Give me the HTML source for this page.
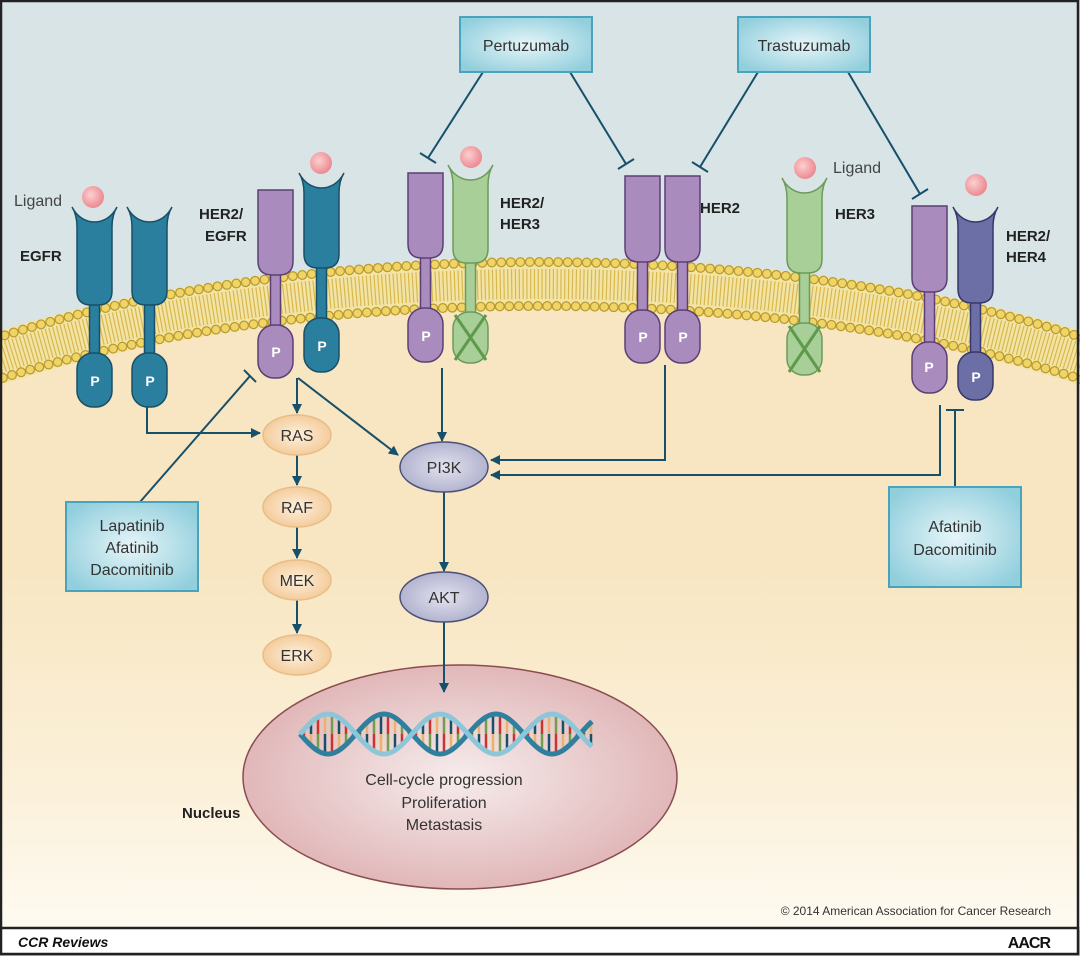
<!DOCTYPE html>
<html><head><meta charset="utf-8"><style>
html,body{margin:0;padding:0;background:#fff}
svg{display:block}
text{font-family:"Liberation Sans",sans-serif}
</style></head><body>
<svg id="s" width="1080" height="956" viewBox="0 0 1080 956" xmlns="http://www.w3.org/2000/svg">
<defs>
<linearGradient id="cyt" x1="0" y1="0" x2="0" y2="1"><stop offset="0" stop-color="#f8e6c2"/><stop offset="0.6" stop-color="#fbf0d9"/><stop offset="1" stop-color="#fefbf2"/></linearGradient>
<radialGradient id="box" cx="0.5" cy="0.5" r="0.6"><stop offset="0" stop-color="#e6f5f8"/><stop offset="1" stop-color="#92cfdd"/></radialGradient>
<radialGradient id="nuc" cx="0.5" cy="0.5" r="0.55"><stop offset="0" stop-color="#f6ecec"/><stop offset="1" stop-color="#dfb2b4"/></radialGradient>
<radialGradient id="org" cx="0.5" cy="0.5" r="0.6"><stop offset="0" stop-color="#fdf0dc"/><stop offset="1" stop-color="#f2c590"/></radialGradient>
<radialGradient id="blu" cx="0.5" cy="0.5" r="0.6"><stop offset="0" stop-color="#e2e2ef"/><stop offset="1" stop-color="#a9abc9"/></radialGradient>
<radialGradient id="lig" cx="0.4" cy="0.4" r="0.6"><stop offset="0" stop-color="#fcd0d0"/><stop offset="1" stop-color="#ec8a92"/></radialGradient>
<marker id="ar" viewBox="0 0 10 10" refX="9" refY="5" markerWidth="5" markerHeight="5" orient="auto"><path d="M0,0 L10,5 L0,10 Z" fill="#17506a"/></marker>
</defs>
<rect x="0" y="0" width="1080" height="956" fill="#d8e4e6"/>
<ellipse cx="540" cy="566" rx="826" ry="308" fill="#f8e6c2"/>
<rect x="0" y="566" width="1080" height="364" fill="url(#cyt)"/>
<!-- membrane (upper arcs only) -->
<path d="M-260,566 A800,282 0 0 1 1340,566" fill="none" stroke="#f3e4a6" stroke-width="52"/>
<path d="M-260,566 A800,282 0 0 1 1340,566" fill="none" stroke="#d7b84c" stroke-width="30" stroke-dasharray="1.2 2.6"/>
<path d="M-282,566 A822,304 0 0 1 1362,566" fill="none" stroke="#b89a30" stroke-width="10" stroke-linecap="round" stroke-dasharray="0 9.5"/>
<path d="M-282,566 A822,304 0 0 1 1362,566" fill="none" stroke="#f0d466" stroke-width="7.5" stroke-linecap="round" stroke-dasharray="0 9.5"/>
<path d="M-238,566 A778,260 0 0 1 1318,566" fill="none" stroke="#b89a30" stroke-width="10" stroke-linecap="round" stroke-dasharray="0 9.5"/>
<path d="M-238,566 A778,260 0 0 1 1318,566" fill="none" stroke="#f0d466" stroke-width="7.5" stroke-linecap="round" stroke-dasharray="0 9.5"/>
<g id="rec"></g>
<g fill="#fff" font-size="14" font-weight="bold" text-anchor="middle">
<text x="95" y="386">P</text><text x="150" y="386">P</text>
<text x="276" y="357">P</text><text x="322" y="351">P</text>
<text x="426" y="341">P</text>
<text x="643" y="342">P</text><text x="683" y="342">P</text>
<text x="929" y="372">P</text><text x="976" y="382">P</text>
</g>
<g fill="url(#lig)">
<circle cx="93" cy="197" r="11"/><circle cx="321" cy="163" r="11"/><circle cx="471" cy="157" r="11"/><circle cx="805" cy="168" r="11"/><circle cx="976" cy="185" r="11"/>
</g>
<!-- nucleus -->
<ellipse cx="460" cy="777" rx="217" ry="112" fill="url(#nuc)" stroke="#8a4d4d" stroke-width="1.5"/>
<g id="dna"></g>
<!-- connectors -->
<g stroke="#17506a" stroke-width="2" fill="none">
<line x1="483" y1="72" x2="428" y2="158"/><line x1="420" y1="153" x2="436" y2="163"/>
<line x1="570" y1="72" x2="626" y2="164"/><line x1="618" y1="169" x2="634" y2="159"/>
<line x1="758" y1="72" x2="700" y2="167"/><line x1="692" y1="162" x2="708" y2="172"/>
<line x1="848" y1="72" x2="920" y2="194"/><line x1="912" y1="199" x2="928" y2="189"/>
<line x1="140" y1="502" x2="250" y2="376"/><line x1="244" y1="370" x2="256" y2="382"/>
<polyline points="147,407 147,433 260,433" marker-end="url(#ar)"/>
<line x1="297" y1="378" x2="297" y2="413" marker-end="url(#ar)"/>
<line x1="298" y1="378" x2="398" y2="455" marker-end="url(#ar)"/>
<line x1="442" y1="368" x2="442" y2="441" marker-end="url(#ar)"/>
<polyline points="665,365 665,460 491,460" marker-end="url(#ar)"/>
<polyline points="940,405 940,475 491,475" marker-end="url(#ar)"/>
<line x1="955" y1="487" x2="955" y2="410"/><line x1="946" y1="410" x2="964" y2="410"/>
<line x1="297" y1="455" x2="297" y2="485" marker-end="url(#ar)"/>
<line x1="297" y1="527" x2="297" y2="558" marker-end="url(#ar)"/>
<line x1="297" y1="600" x2="297" y2="633" marker-end="url(#ar)"/>
<line x1="444" y1="492" x2="444" y2="571" marker-end="url(#ar)"/>
<line x1="444" y1="622" x2="444" y2="692" marker-end="url(#ar)"/>
</g>
<g stroke-width="1.5">
<ellipse cx="297" cy="435" rx="34" ry="20" fill="url(#org)" stroke="#e9bd86"/>
<ellipse cx="297" cy="507" rx="34" ry="20" fill="url(#org)" stroke="#e9bd86"/>
<ellipse cx="297" cy="580" rx="34" ry="20" fill="url(#org)" stroke="#e9bd86"/>
<ellipse cx="297" cy="655" rx="34" ry="20" fill="url(#org)" stroke="#e9bd86"/>
<ellipse cx="444" cy="467" rx="44" ry="25" fill="url(#blu)" stroke="#4c4f78"/>
<ellipse cx="444" cy="597" rx="44" ry="25" fill="url(#blu)" stroke="#4c4f78"/>
</g>
<g font-size="16" text-anchor="middle" fill="#333">
<text x="297" y="441">RAS</text><text x="297" y="513">RAF</text><text x="297" y="586">MEK</text><text x="297" y="661">ERK</text>
<text x="444" y="473">PI3K</text><text x="444" y="603">AKT</text>
</g>
<g font-size="16" text-anchor="middle" fill="#333">
<text x="444" y="785">Cell-cycle progression</text>
<text x="444" y="808">Proliferation</text>
<text x="444" y="830">Metastasis</text>
</g>
<text x="182" y="818" font-size="15" font-weight="bold" fill="#222">Nucleus</text>
<g fill="url(#box)" stroke="#49a3bd" stroke-width="2">
<rect x="460" y="17" width="132" height="55"/>
<rect x="738" y="17" width="132" height="55"/>
<rect x="66" y="502" width="132" height="89"/>
<rect x="889" y="487" width="132" height="100"/>
</g>
<g font-size="16" text-anchor="middle" fill="#333">
<text x="526" y="51">Pertuzumab</text>
<text x="804" y="51">Trastuzumab</text>
<text x="132" y="531">Lapatinib</text><text x="132" y="553">Afatinib</text><text x="132" y="575">Dacomitinib</text>
<text x="955" y="532">Afatinib</text><text x="955" y="555">Dacomitinib</text>
</g>
<g font-size="15" fill="#222">
<text x="14" y="206" fill="#444" font-size="16">Ligand</text>
<text x="20" y="261" font-weight="bold">EGFR</text>
<text x="199" y="219" font-weight="bold">HER2/</text><text x="205" y="241" font-weight="bold">EGFR</text>
<text x="500" y="208" font-weight="bold">HER2/</text><text x="500" y="229" font-weight="bold">HER3</text>
<text x="700" y="213" font-weight="bold">HER2</text>
<text x="833" y="173" fill="#444" font-size="16">Ligand</text>
<text x="835" y="219" font-weight="bold">HER3</text>
<text x="1006" y="241" font-weight="bold">HER2/</text><text x="1006" y="262" font-weight="bold">HER4</text>
</g>
<text x="1051" y="915" font-size="12" text-anchor="end" fill="#333">© 2014 American Association for Cancer Research</text>
<rect x="1" y="1" width="1077" height="953" fill="none" stroke="#222" stroke-width="2.5"/>
<rect x="1" y="928" width="1077" height="26" fill="#fff" stroke="#222" stroke-width="2.5"/>
<text x="18" y="947" font-size="14" font-weight="bold" font-style="italic" fill="#111">CCR Reviews</text>
<text x="1050" y="948" font-size="16" font-weight="bold" text-anchor="end" fill="#111" letter-spacing="-1">AACR</text>
</svg>
<script>
var R=[[77,207,305,353,407,'#2a7f9f','#1b4f66',1,0],[132,207,305,353,407,'#2a7f9f','#1b4f66',1,0],
[258,190,275,325,378,'#a98bbd','#5c3f74',0,0],[304,173,268,318,372,'#2a7f9f','#1b4f66',1,0],
[408,173,258,308,362,'#a98bbd','#5c3f74',0,0],[453,165,263,312,363,'#a9cf98','#6a9b5a',1,1],
[625,176,262,310,363,'#a98bbd','#5c3f74',0,0],[665,176,262,310,363,'#a98bbd','#5c3f74',0,0],
[787,178,273,323,375,'#a9cf98','#6a9b5a',1,1],[912,206,292,342,393,'#a98bbd','#5c3f74',0,0],
[958,207,303,352,400,'#6c6fa6','#35386a',1,0]];
var h='';
R.forEach(function(r){var L=r[0],T=r[1],B=r[2],N=r[3],P=r[4],f=r[5],s=r[6];
var st=' fill="'+f+'" stroke="'+s+'" stroke-width="1.5"';
h+='<rect x="'+(L+12.5)+'" y="'+(B-3)+'" width="10" height="'+(N-B+6)+'"'+st+'/>';
var d;
if(r[7]) d='M'+(L-5)+','+T+' C'+(L+5)+','+(T+20)+' '+(L+30)+','+(T+20)+' '+(L+40)+','+T+' Q'+(L+35)+','+(T+8)+' '+(L+35)+','+(T+20)+' V'+(B-14)+' Q'+(L+35)+','+B+' '+(L+21)+','+B+' H'+(L+14)+' Q'+L+','+B+' '+L+','+(B-14)+' V'+(T+20)+' Q'+L+','+(T+8)+' '+(L-5)+','+T+' Z';
else d='M'+L+','+T+' H'+(L+35)+' V'+(B-14)+' Q'+(L+35)+','+B+' '+(L+21)+','+B+' H'+(L+14)+' Q'+L+','+B+' '+L+','+(B-14)+' Z';
h+='<path d="'+d+'"'+st+'/>';
h+='<rect x="'+L+'" y="'+N+'" width="35" height="'+(P-N)+'" rx="16"'+st+'/>';
if(r[8]) h+='<path d="M'+(L+2)+','+(N+3)+' L'+(L+33)+','+(P-3)+' M'+(L+33)+','+(N+3)+' L'+(L+2)+','+(P-3)+'" stroke="#5e9a4c" stroke-width="3"/>';
});
document.getElementById('rec').innerHTML=h;
var g='',cols=['#c9352e','#e8b46a','#6f9f4a','#17506a'];
var x0=300,x1=592,cy=734,A=20,per=112;
for(var x=x0+4,i=0;x<x1;x+=7,i++){var y1=cy+A*Math.sin((x-x0)/per*2*Math.PI),y2=cy-A*Math.sin((x-x0)/per*2*Math.PI);
var m=(y1+y2)/2;g+='<line x1="'+x+'" y1="'+y1+'" x2="'+x+'" y2="'+m+'" stroke="'+cols[i%4]+'" stroke-width="2.5"/><line x1="'+x+'" y1="'+m+'" x2="'+x+'" y2="'+y2+'" stroke="'+cols[(i+2)%4]+'" stroke-width="2.5"/>';}
var p1='',p2='';for(var x=x0;x<=x1;x+=2){var t=(x-x0)/per*2*Math.PI;p1+=(x==x0?'M':'L')+x+','+(cy+A*Math.sin(t));p2+=(x==x0?'M':'L')+x+','+(cy-A*Math.sin(t));}
g+='<path d="'+p1+'" fill="none" stroke="#2f7f9f" stroke-width="5"/><path d="'+p2+'" fill="none" stroke="#8ec6d9" stroke-width="5"/>';
document.getElementById('dna').innerHTML=g;
</script>
</body></html>
